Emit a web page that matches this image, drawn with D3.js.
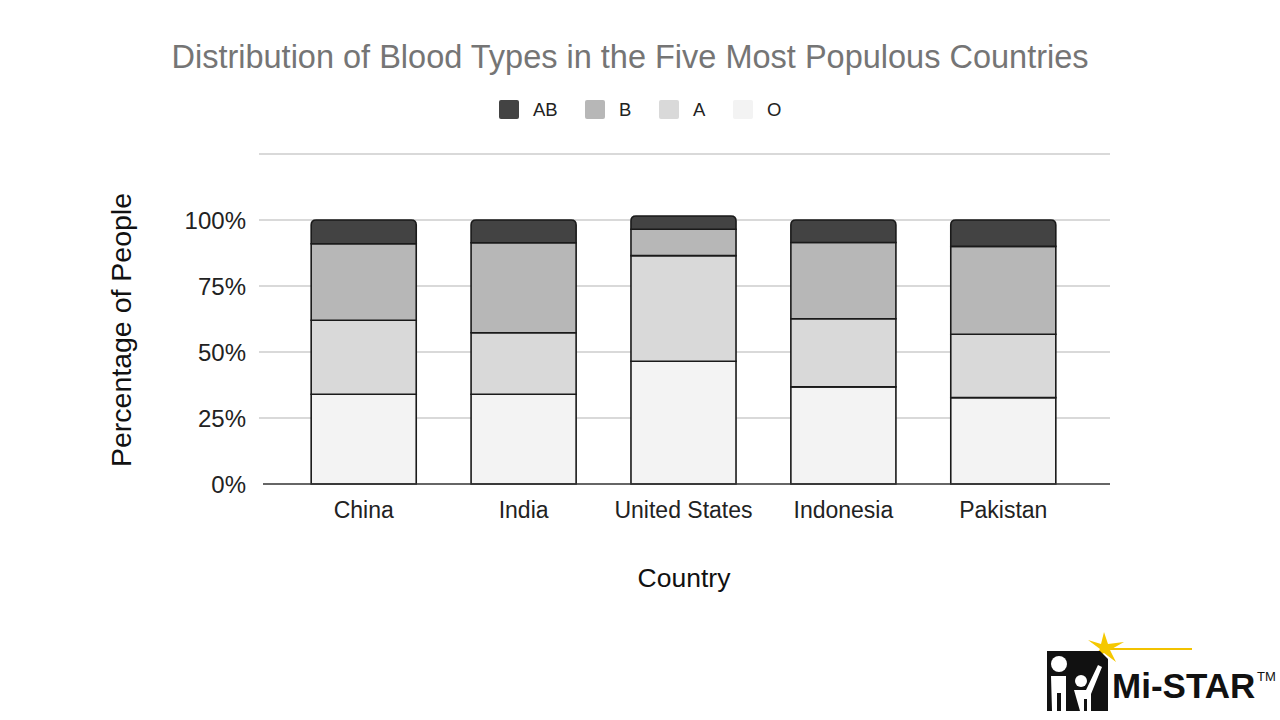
<!DOCTYPE html>
<html>
<head>
<meta charset="utf-8">
<script src="https://cdn.jsdelivr.net/npm/d3@7"></script>
<style>
    body { margin: 0; background: white; }
    svg text { font-family: "Liberation Sans", Arial, sans-serif; }
</style>
</head>
<body>
<div id="canvas"></div>
<script>
"use strict"

/* Data: percentages per country */
let countries = ["China", "India", "United States", "Indonesia", "Pakistan"];
let bloodTypes = ["O", "A", "B", "AB"];
let typeO = [34, 34, 46.5, 36.8, 32.7];
let typeA = [28, 23.3, 40, 25.8, 24];
let typeB = [29, 34.1, 10, 28.9, 33.3];
let typeAB = [9, 8.6, 5, 8.5, 10];
let yTicks = [0, 25, 50, 75, 100, 125];
let legendOrder = ["AB", "B", "A", "O"];

/* Configuration variables: drawing */
let svgWidth = 1280;
let svgHeight = 720;
let plotLeft = 259;
let plotRight = 1110;
let plotTop = 154;
let plotBottom = 484;

let colors = { O: "#f3f3f3", A: "#d9d9d9", B: "#b7b7b7", AB: "#434343" };

let svg = d3.select("#canvas")
    .append("svg")
    .attr("width", svgWidth)
    .attr("height", svgHeight);

/* Build rows for the stack layout */
let rows = countries.map(function (c, i) {
    return { country: c, O: typeO[i], A: typeA[i], B: typeB[i], AB: typeAB[i] };
});
let series = d3.stack().keys(bloodTypes)(rows);

let x = d3.scaleBand()
    .domain(countries)
    .range([284, 1083])
    .paddingInner(0.343)
    .paddingOuter(0.17);

let y = d3.scaleLinear()
    .domain([0, 125])
    .range([plotBottom, plotTop]);

/* Title */
svg.append("text")
    .attr("x", 630)
    .attr("y", 68)
    .attr("text-anchor", "middle")
    .attr("fill", "#757575")
    .style("font-size", "32.5px")
    .text("Distribution of Blood Types in the Five Most Populous Countries");

/* Legend */
let legendX = [499, 585, 659, 733];
let legend = svg.selectAll(".legend")
    .data(legendOrder)
    .join("g")
    .attr("class", "legend")
    .attr("transform", function (d, i) { return "translate(" + legendX[i] + ",100)"; });

legend.append("rect")
    .attr("width", 20)
    .attr("height", 19)
    .attr("rx", 2)
    .attr("fill", function (d) { return colors[d]; });

legend.append("text")
    .attr("x", 34)
    .attr("y", 16)
    .attr("fill", "#222")
    .style("font-size", "18.5px")
    .text(function (d) { return d; });

/* Gridlines */
svg.append("g")
    .selectAll("line")
    .data(yTicks.filter(function (t) { return t > 0; }))
    .join("line")
    .attr("x1", plotLeft)
    .attr("x2", plotRight)
    .attr("y1", function (d) { return y(d); })
    .attr("y2", function (d) { return y(d); })
    .attr("stroke", "#cccccc")
    .attr("stroke-width", 1.3);

/* Y tick labels (only up to 100%) */
svg.append("g")
    .selectAll("text")
    .data(yTicks.filter(function (t) { return t <= 100; }))
    .join("text")
    .attr("x", 246)
    .attr("y", function (d) { return y(d); })
    .attr("dy", "0.36em")
    .attr("text-anchor", "end")
    .attr("fill", "#222")
    .style("font-size", "24px")
    .text(function (d) { return d + "%"; });

/* Bars: rounded top corners on the topmost segment */
function segmentPath(x0, w, yTop, yBot, r) {
    if (r === 0) {
        return "M" + x0 + "," + yBot + "V" + yTop + "H" + (x0 + w) + "V" + yBot + "Z";
    }
    return "M" + x0 + "," + yBot +
        "V" + (yTop + r) +
        "Q" + x0 + "," + yTop + " " + (x0 + r) + "," + yTop +
        "H" + (x0 + w - r) +
        "Q" + (x0 + w) + "," + yTop + " " + (x0 + w) + "," + (yTop + r) +
        "V" + yBot + "Z";
}

let layers = svg.append("g")
    .selectAll("g")
    .data(series)
    .join("g")
    .attr("fill", function (s) { return colors[s.key]; });

layers.selectAll("path")
    .data(function (s) { return s.map(function (d) { return { d: d, top: s.key === "AB" }; }); })
    .join("path")
    .attr("d", function (v) {
        return segmentPath(x(v.d.data.country), x.bandwidth(), y(v.d[1]), y(v.d[0]), v.top ? 5 : 0);
    })
    .attr("stroke", "#1a1a1a")
    .attr("stroke-width", 1.6);

/* Baseline */
svg.append("line")
    .attr("x1", 263)
    .attr("x2", plotRight)
    .attr("y1", y(0))
    .attr("y2", y(0))
    .attr("stroke", "#333")
    .attr("stroke-width", 1.5);

/* Country labels */
svg.append("g")
    .selectAll("text")
    .data(countries)
    .join("text")
    .attr("x", function (d) { return x(d) + x.bandwidth() / 2; })
    .attr("y", 518)
    .attr("text-anchor", "middle")
    .attr("fill", "#222")
    .style("font-size", "23px")
    .text(function (d) { return d; });

/* Axis titles */
svg.append("text")
    .attr("x", 684)
    .attr("y", 587)
    .attr("text-anchor", "middle")
    .attr("fill", "#111")
    .style("font-size", "26.5px")
    .text("Country");

svg.append("text")
    .attr("transform", "translate(131,330) rotate(-90)")
    .attr("text-anchor", "middle")
    .attr("fill", "#111")
    .style("font-size", "28.5px")
    .text("Percentage of People");

/* Mi-STAR logo, roughly */
let logo = svg.append("g");
logo.append("line")
    .attr("x1", 1100).attr("y1", 649).attr("x2", 1192).attr("y2", 649)
    .attr("stroke", "#f2c200").attr("stroke-width", 2);
logo.append("path")
    .attr("d", "M1104,632 L1108,644 L1124,642 L1110,650 L1116,662 L1104,653 L1092,660 L1100,649 L1088,640 L1101,644 Z")
    .attr("fill", "#f5c800");
logo.append("path")
    .attr("d", "M1047,651 H1100 L1108,659 V711 H1047 Z")
    .attr("fill", "#111");
logo.append("circle").attr("cx", 1059).attr("cy", 664).attr("r", 8).attr("fill", "white");
logo.append("path")
    .attr("d", "M1051,676 h15 v35 h-5 v-18 h-4 v18 h-5 Z")
    .attr("fill", "white");
logo.append("circle").attr("cx", 1081).attr("cy", 681).attr("r", 6).attr("fill", "white");
logo.append("path")
    .attr("d", "M1074,690 h12 l12,-25 l4,2 l-11,27 v17 h-4 v-12 h-3 v12 h-4 Z")
    .attr("fill", "white");
logo.append("text")
    .attr("x", 1112)
    .attr("y", 698)
    .attr("fill", "#111")
    .style("font-size", "35px")
    .style("font-weight", "bold")
    .text("Mi-STAR");
logo.append("text")
    .attr("x", 1257)
    .attr("y", 681)
    .attr("fill", "#111")
    .style("font-size", "13px")
    .text("TM");
</script>
</body>
</html>
